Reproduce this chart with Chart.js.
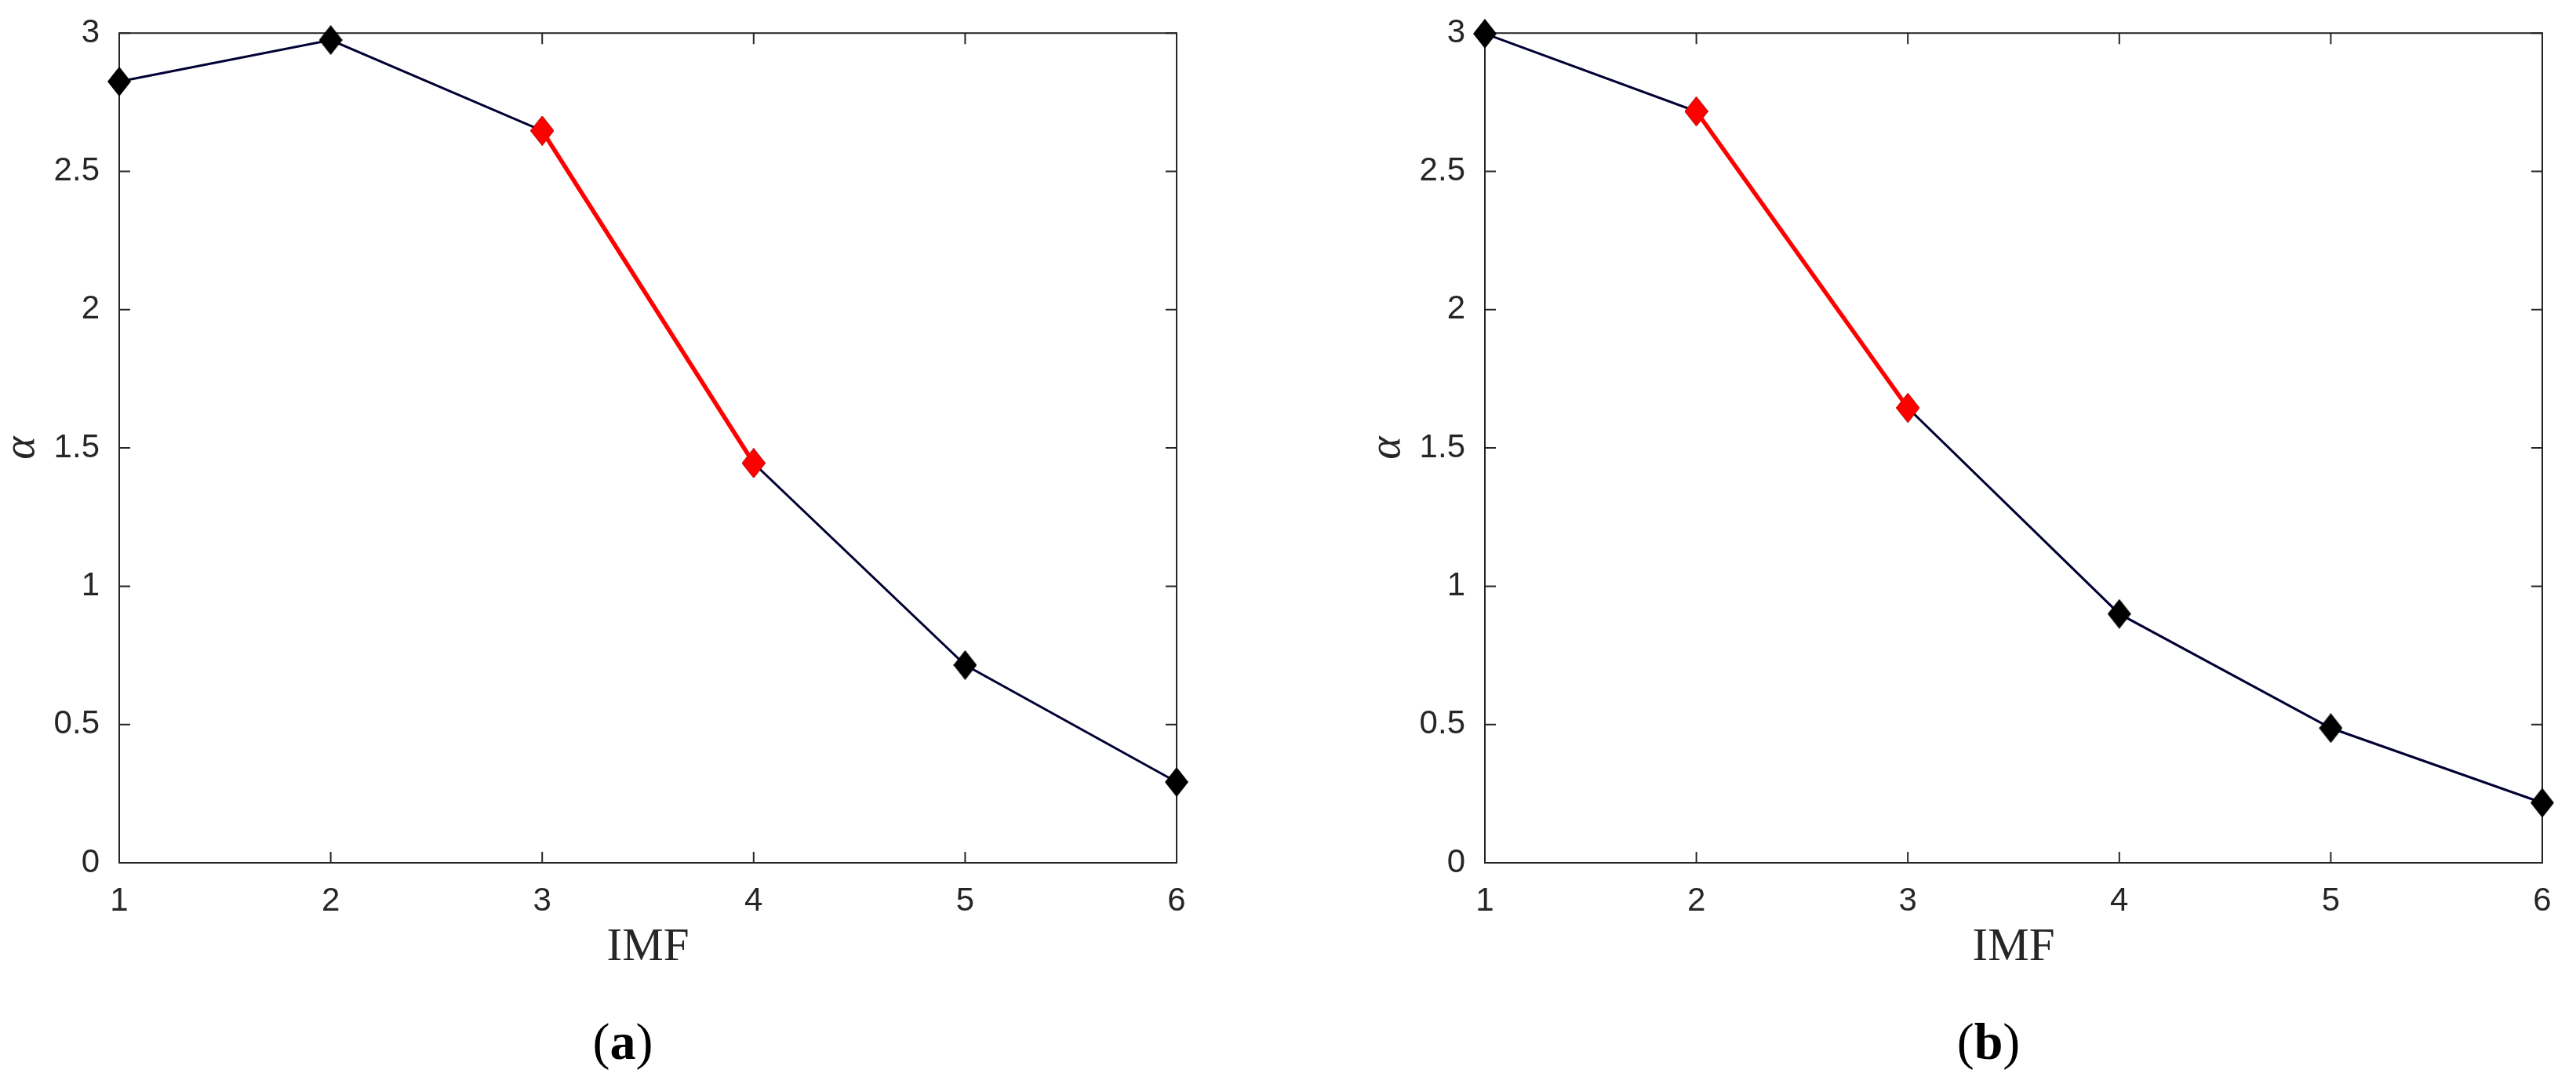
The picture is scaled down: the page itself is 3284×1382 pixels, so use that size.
<!DOCTYPE html>
<html>
<head>
<meta charset="utf-8">
<script src="https://cdn.jsdelivr.net/npm/chart.js@4"></script>
<style>
  html, body { margin: 0; padding: 0; background: #fff; }
  body { width: 3284px; height: 1382px; position: relative; overflow: hidden; }
  canvas { position: absolute; top: 0; }
  #chartA { left: 0; }
  #chartB { left: 1741px; }
</style>
</head>
<body>
<canvas id="chartA" width="1560" height="1382"></canvas>
<canvas id="chartB" width="1543" height="1382"></canvas>
<script>
// values
const imf = [1, 2, 3, 4, 5, 6];
const alphaA = [2.825, 2.975, 2.647, 1.445, 0.715, 0.292];
const alphaB = [2.998, 2.717, 1.645, 0.9, 0.487, 0.217];
// IMF numbers drawn in red
const redA = [3, 4];
const redB = [2, 3];

document.addEventListener("DOMContentLoaded", function() {
    const axisColor = "#262626";
    Chart.defaults.font.family = "'Liberation Sans', Arial, sans-serif";
    Chart.defaults.font.size = 42;
    Chart.defaults.color = axisColor;

    // tall MATLAB style diamond marker
    function diamond(color) {
        const c = document.createElement("canvas");
        c.width = 30; c.height = 38;
        const g = c.getContext("2d");
        g.fillStyle = color;
        g.beginPath();
        g.moveTo(15, 0); g.lineTo(30, 19); g.lineTo(15, 38); g.lineTo(0, 19);
        g.closePath();
        g.fill();
        return c;
    }
    const blackMark = diamond("#000000");
    const redMark = diamond("#ff0000");

    // box around the axes, inward ticks on all sides, panel label
    const frame = {
        id: "frame",
        beforeDatasetsDraw(chart) {
            const { ctx, chartArea: a, scales: { x, y } } = chart;
            ctx.save();
            ctx.strokeStyle = axisColor;
            ctx.lineWidth = 2;
            ctx.strokeRect(a.left, a.top, a.right - a.left, a.bottom - a.top);
            ctx.beginPath();
            x.ticks.forEach(t => {
                const px = x.getPixelForValue(t.value);
                ctx.moveTo(px, a.bottom); ctx.lineTo(px, a.bottom - 14);
                ctx.moveTo(px, a.top); ctx.lineTo(px, a.top + 14);
            });
            y.ticks.forEach(t => {
                const py = y.getPixelForValue(t.value);
                ctx.moveTo(a.left, py); ctx.lineTo(a.left + 14, py);
                ctx.moveTo(a.right, py); ctx.lineTo(a.right - 14, py);
            });
            ctx.stroke();
            ctx.restore();
        },
        afterDraw(chart, args, opts) {
            const ctx = chart.ctx;
            const reg = "66px 'Liberation Serif', serif";
            const bold = "bold 66px 'Liberation Serif', serif";
            ctx.save();
            ctx.fillStyle = "#000";
            ctx.textBaseline = "middle";
            ctx.textAlign = "left";
            ctx.font = reg;
            const wp = ctx.measureText("(").width;
            const wc = ctx.measureText(")").width;
            ctx.font = bold;
            const wl = ctx.measureText(opts.text).width;
            let x0 = opts.x - (wp + wl + wc) / 2;
            ctx.font = reg; ctx.fillText("(", x0, opts.y);
            ctx.font = bold; ctx.fillText(opts.text, x0 + wp, opts.y);
            ctx.font = reg; ctx.fillText(")", x0 + wp + wl, opts.y);
            ctx.restore();
        }
    };

    function makeChart(id, values, red, label, rightPad) {
        const pts = imf.map((v, i) => ({ x: v, y: values[i] }));
        const redPts = pts.filter(p => red.includes(p.x));
        return new Chart(document.getElementById(id), {
            type: "line",
            data: {
                datasets: [{
                    data: pts,
                    borderColor: "#000033",
                    borderWidth: 3,
                    pointStyle: blackMark,
                    clip: false,
                    order: 2
                }, {
                    data: redPts,
                    borderColor: "#ff0000",
                    borderWidth: 5.5,
                    pointStyle: redMark,
                    clip: false,
                    order: 1
                }]
            },
            options: {
                responsive: false,
                animation: false,
                layout: { autoPadding: false, padding: { top: 36, right: rightPad, bottom: 0, left: 0 } },
                elements: { line: { tension: 0 }, point: { radius: 15, hoverRadius: 15 } },
                plugins: {
                    legend: { display: false },
                    tooltip: { enabled: false },
                    frame: { text: label, x: 794, y: 1333 }
                },
                scales: {
                    x: {
                        type: "linear",
                        min: 1, max: 6,
                        grid: { display: false },
                        border: { display: false },
                        ticks: { stepSize: 1, padding: 16 },
                        title: {
                            display: true,
                            text: "IMF",
                            font: { family: "'Liberation Serif', serif", size: 59 },
                            padding: { top: 0, bottom: 138 }
                        },
                        afterFit(s) { s.height = 282; }
                    },
                    y: {
                        min: 0, max: 3,
                        grid: { display: false },
                        border: { display: false },
                        ticks: { stepSize: 0.5, padding: 17, callback: v => String(v) },
                        title: {
                            display: true,
                            text: "α",
                            font: { family: "'Liberation Serif', serif", size: 56, style: "italic", lineHeight: 1 },
                            padding: { top: 0, bottom: 0 }
                        },
                        afterFit(s) { s.width = 152; }
                    }
                }
            },
            plugins: [frame]
        });
    }

    makeChart("chartA", alphaA, redA, "a", 60);
    makeChart("chartB", alphaB, redB, "b", 43);
});
</script>
</body>
</html>
